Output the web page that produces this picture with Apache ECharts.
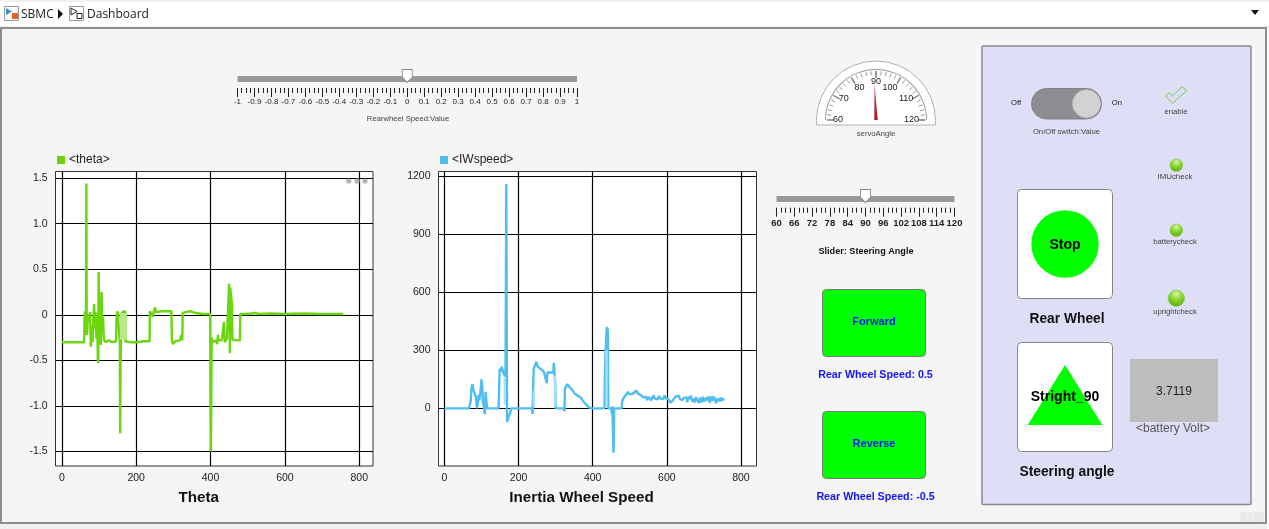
<!DOCTYPE html>
<html>
<head>
<meta charset="utf-8">
<title>Dashboard</title>
<script src="https://cdn.jsdelivr.net/npm/echarts@6/dist/echarts.min.js"></script>
<style>
html, body { margin: 0; padding: 0; background: #f0f0f0; }
#main { width: 1269px; height: 529px; }
</style>
</head>
<body>
<div id="main"></div>
<script>
// theta trace, [sample, value]
var thetaData = [[0,-0.3],[20,-0.3],[40,-0.3],[60,-0.3],[61,-0.08],[62,0.04],[63,-0.22],[65,-0.05],[66,1.44],[67,-0.12],[68,-0.22],[70,-0.03],[73,-0.06],[76,0.03],[78,-0.35],[80,-0.12],[83,-0.3],[85,-0.02],[87,0.12],[89,-0.15],[91,0.03],[93,-0.26],[95,-0.02],[97,-0.5],[98,-0.53],[99,0.47],[101,-0.1],[103,0.12],[105,-0.33],[107,0.25],[109,-0.18],[111,-0.02],[113,-0.27],[118,-0.3],[125,-0.28],[135,-0.3],[146,-0.29],[147,-0.05],[150,0.04],[155,0.05],[156,-0.3],[157,-1.3],[158,-0.55],[160,-0.05],[163,0.03],[170,0.04],[171,-0.29],[185,-0.3],[200,-0.3],[220,-0.29],[236,-0.29],[237,0.04],[240,0.02],[245,-0.02],[248,0.05],[251,0.08],[253,0.03],[270,0.04],[295,0.04],[296,-0.28],[299,-0.32],[305,-0.29],[318,-0.28],[321,-0.22],[324,-0.28],[325,0.02],[330,0.03],[345,0.04],[360,0.02],[380,0.01],[399,0.01],[400,-0.9],[401,-1.5],[402,-0.9],[403,-0.25],[405,-0.3],[415,-0.28],[418,-0.32],[420,-0.22],[422,-0.28],[430,-0.28],[434,-0.15],[436,-0.08],[438,-0.3],[441,-0.32],[444,-0.26],[449,-0.28],[450,0.34],[451,0.2],[452,-0.42],[453,0.3],[456,0.3],[458,0.1],[459,-0.27],[470,-0.28],[479,-0.28],[480,0.01],[500,0.01],[520,0.02],[530,0.01],[560,0.015],[600,0.01],[650,0.015],[700,0.01],[757,0.01]];

// pale stretches of the theta trace
var thetaPale = [[165.5,-0.27],[165.5,0.02]];

// inertia wheel speed trace, [sample, value]
var wheelData = [[0,0],[30,0],[66,0],[68,10],[71,40],[73,105],[76,125],[78,95],[82,75],[85,55],[88,0],[90,30],[92,70],[94,40],[96,65],[98,100],[100,150],[102,110],[104,30],[107,5],[109,-30],[111,85],[114,80],[115,0],[146,0],[147,65],[149,205],[152,190],[154,215],[157,225],[160,180],[163,165],[165,205],[167,1160],[168,400],[169,-70],[173,-45],[178,-20],[180,0],[210,0],[237,0],[238,-30],[239,90],[241,205],[245,195],[248,240],[252,215],[256,225],[262,200],[268,190],[272,180],[276,130],[278,185],[285,185],[294,185],[295,235],[297,190],[299,120],[300,0],[322,0],[324,-15],[325,100],[328,110],[331,125],[338,110],[345,95],[352,75],[360,65],[368,55],[375,35],[382,20],[390,5],[394,15],[398,0],[432,0],[433,180],[435,300],[437,310],[438,420],[441,405],[442,0],[450,0],[452,-30],[453,10],[455,10],[456,-229],[457,-150],[458,0],[478,0],[480,40],[484,55],[490,70],[495,85],[499,72],[503,78],[507,74],[512,80],[518,92],[521,78],[525,80],[530,68],[533,72],[537,55],[540,48],[544,60],[547,42],[551,58],[555,55],[558,42],[560,48],[564,66],[567,52],[571,60],[575,46],[579,64],[583,50],[587,58],[590,48],[594,66],[597,52],[600,60],[603,50],[607,40],[610,30],[613,22],[616,40],[620,48],[624,62],[628,52],[632,65],[635,50],[639,58],[642,42],[646,54],[650,44],[653,58],[655,32],[659,60],[662,48],[665,66],[668,36],[672,50],[675,30],[679,58],[682,44],[686,28],[690,55],[693,30],[697,60],[700,36],[703,30],[707,55],[710,40],[713,62],[716,28],[719,50],[722,62],[725,40],[728,60],[731,40],[733,26],[736,50],[738,38],[741,52],[744,36],[747,55],[750,42],[755,50]];

// pale stretches of the wheel trace
var wheelPale = [[163,20],[163,160],['-','-'],[241,10],[241,90],['-','-'],[298,10],[298,170],['-','-'],[437.5,10],[437.5,300]];

// axis ticks
var plotXTicks = [0, 200, 400, 600, 800];
var thetaYTicks = [-1.5, -1, -0.5, 0, 0.5, 1, 1.5];
var wheelYTicks = [0, 300, 600, 900, 1200];

// current values of the widgets
var rearSliderValue = 0;
var steerSliderValue = 90;
var servoAngle = 89.2;
var batteryVolt = '3.7119';

var GREEN = '#00ff00';
var THETA_COLOR = '#6bd60e';
var WHEEL_COLOR = '#4fbdf0';
var FONT = '"Liberation Sans", Arial, sans-serif';
var UI_FONT = '"Open Sans", "Noto Sans", sans-serif';

var thumbPath = 'path://M0,0 L10,0 L10,8 L5,13 L0,8 Z';

function label(x, y, text, size, color, weight, align, family) {
    return {
        type: 'text', x: x, y: y + 0.8, z: 6, silent: true,
        style: {
            text: text,
            fontSize: size,
            fontFamily: family || FONT,
            fontWeight: weight || 'normal',
            fill: color || '#000',
            align: align || 'center',
            verticalAlign: 'middle'
        }
    };
}

function box(x, y, w, h, fill, stroke, r, sw, z) {
    return {
        type: 'rect', z: z === undefined ? 1 : z, silent: true,
        shape: { x: x, y: y, width: w, height: h, r: r || 0 },
        style: { fill: fill, stroke: stroke || null, lineWidth: sw === undefined ? 1 : sw }
    };
}

function led(x, y, r) {
    return {
        type: 'circle', z: 3, silent: true,
        shape: { cx: x, cy: y, r: r },
        style: {
            fill: new echarts.graphic.RadialGradient(0.5, 0.25, 0.75, [
                { offset: 0, color: '#d6f5a8' },
                { offset: 0.5, color: '#86d42a' },
                { offset: 1, color: '#58a808' }
            ]),
            stroke: '#8ad060', lineWidth: 0.8
        }
    };
}

function plotAxes(gridIndex, xMin, xMax, yMin, yMax, yTicks) {
    var x = {
        type: 'value', gridIndex: gridIndex, min: xMin, max: xMax,
        axisLine: { show: false },
        axisTick: { show: false, customValues: plotXTicks },
        axisLabel: {
            customValues: plotXTicks, color: '#222', fontSize: 10.5, fontFamily: FONT,
            margin: 7, showMinLabel: true, showMaxLabel: true, hideOverlap: false
        },
        splitLine: { show: true, lineStyle: { color: '#000', width: 1.2 } }
    };
    var y = {
        type: 'value', gridIndex: gridIndex, min: yMin, max: yMax,
        axisLine: { show: false },
        axisTick: { show: false, customValues: yTicks },
        axisLabel: {
            customValues: yTicks, color: '#222', fontSize: 10.5, fontFamily: FONT,
            margin: 8, showMinLabel: true, showMaxLabel: true, hideOverlap: false,
            formatter: function (v) {
                return Math.abs(v) < 10 && v !== 0 ? v.toFixed(1) : String(v);
            }
        },
        splitLine: { show: true, lineStyle: { color: '#000', width: 1.2 } }
    };
    return { x: x, y: y };
}

function sliderAxes(gridIndex, min, max, interval, font, bold, margin) {
    var x = {
        type: 'value', gridIndex: gridIndex, min: min, max: max, interval: interval,
        position: 'bottom',
        axisLine: { show: false, onZero: false },
        axisTick: { show: true, length: 9, lineStyle: { color: '#222', width: 1 } },
        minorTick: { show: true, splitNumber: 4, length: 5, lineStyle: { color: '#222', width: 1 } },
        splitLine: { show: false },
        axisLabel: {
            color: '#222', fontSize: font, fontFamily: FONT, fontWeight: bold ? 'bold' : 'normal',
            margin: margin, showMinLabel: true, showMaxLabel: true, hideOverlap: false,
            formatter: function (v) { return String(+v.toFixed(1)); }
        }
    };
    var y = { type: 'value', gridIndex: gridIndex, min: 0, max: 1, show: false };
    return { x: x, y: y };
}

function sliderSeries(axisIndex, min, max, value) {
    return [{
        type: 'line', xAxisIndex: axisIndex, yAxisIndex: axisIndex,
        data: [[min, 0.5], [max, 0.5]],
        showSymbol: false, silent: true, z: 2,
        lineStyle: { color: '#999', width: 6, cap: 'butt' }
    }, {
        type: 'scatter', xAxisIndex: axisIndex, yAxisIndex: axisIndex,
        data: [[value, 0.5]],
        symbol: thumbPath, symbolSize: [10, 13], symbolOffset: [0, -3],
        clip: false, silent: true, z: 3,
        itemStyle: { color: '#fff', borderColor: '#888', borderWidth: 1, opacity: 1 }
    }];
}

var thetaAxes = plotAxes(0, -17, 837, -1.658, 1.5725, thetaYTicks);
var wheelAxes = plotAxes(1, -16, 842, -298, 1224, wheelYTicks);
var rearAxes = sliderAxes(2, -1, 1, 0.1, 8, false, 10);
var steerAxes = sliderAxes(3, 60, 120, 6, 9.5, true, 10.5);

var graphics = [
    // window chrome
    box(0, 0, 1269, 2, '#f0f0f0', null, 0, 0, 0),
    box(0, 2, 1269, 24, '#ffffff', null, 0, 0, 0),
    box(0, 26, 1269, 2, '#f0f0f0', null, 0, 0, 0),
    box(1, 28, 1265, 495, null, '#8a8f96', 0, 2, 0),
    box(0, 524, 1269, 5, '#f0f0f0', null, 0, 0, 0),
    box(1267, 28, 2, 501, '#ffffff', null, 0, 0, 0),
    box(1240, 512, 6, 10, '#e8e8e8', null, 0, 0, 0),
    box(1247, 512, 5, 10, '#e8e8e8', null, 0, 0, 0),
    box(1253, 512, 11, 10, '#e8e8e8', null, 0, 0, 0),

    // breadcrumb
    box(4.5, 6.5, 14, 14, '#fff', '#999', 0, 1, 1),
    { type: 'polygon', z: 2, silent: true, shape: { points: [[6, 8], [12, 11.5], [6, 15]] }, style: { fill: '#3a8fd0' } },
    box(12, 13, 6, 6, '#e0641c', null, 0, 0, 2),
    label(21, 13.5, 'SBMC', 12, '#222', 'normal', 'left', UI_FONT),
    { type: 'polygon', z: 2, silent: true, shape: { points: [[58, 9], [63, 14], [58, 19]] }, style: { fill: '#111' } },
    box(69.5, 6.5, 14, 14, '#fff', '#999', 0, 1, 1),
    { type: 'polygon', z: 2, silent: true, shape: { points: [[71, 8], [77, 11.5], [71, 15]] }, style: { fill: '#fff', stroke: '#222', lineWidth: 1 } },
    box(77, 13.5, 5, 5, '#fff', '#222', 0, 1, 2),
    label(87, 13.5, 'Dashboard', 12, '#222', 'normal', 'left', UI_FONT),
    { type: 'polygon', z: 2, silent: true, shape: { points: [[1251, 10], [1259, 10], [1255, 15]] }, style: { fill: '#111' } },

    // slider captions
    label(408, 118, 'Rearwheel Speed:Value', 7.7, '#444'),
    label(866, 250.5, 'Slider: Steering Angle', 9.1, '#111', 'bold'),

    // gauge housing
    box(816.5, 120.5, 119, 4.5, '#fff', null, 0, 0, 1),
    { type: 'sector', z: 1, silent: true, shape: { cx: 876, cy: 120.5, r: 59.5, r0: 0, startAngle: Math.PI, endAngle: Math.PI * 2, clockwise: true }, style: { fill: '#fff' } },
    { type: 'arc', z: 1, silent: true, shape: { cx: 876, cy: 120.5, r: 59.5, startAngle: Math.PI, endAngle: Math.PI * 2, clockwise: true }, style: { fill: null, stroke: '#b0b0b0', lineWidth: 1 } },
    { type: 'polyline', z: 1, silent: true, shape: { points: [[816.5, 120.5], [816.5, 125], [935.5, 125], [935.5, 120.5]] }, style: { fill: null, stroke: '#b0b0b0', lineWidth: 1 } },
    label(876, 133.5, 'servoAngle', 7.7, '#444'),

    // three dots of the scope menu
    { type: 'circle', z: 5, silent: true, shape: { cx: 348.7, cy: 181, r: 2.6 }, style: { fill: '#b5b5b5' } },
    { type: 'circle', z: 5, silent: true, shape: { cx: 357, cy: 181, r: 2.6 }, style: { fill: '#b5b5b5' } },
    { type: 'circle', z: 5, silent: true, shape: { cx: 365, cy: 181, r: 2.6 }, style: { fill: '#b5b5b5' } },

    // forward and reverse buttons
    box(822.5, 289.5, 103, 67, GREEN, '#777', 4, 1, 1),
    label(874, 321.5, 'Forward', 11, '#1414ff', 'bold'),
    label(875.5, 374, 'Rear Wheel Speed: 0.5', 10.7, '#1414ff', 'bold'),
    box(822.5, 411.5, 103, 67, GREEN, '#777', 4, 1, 1),
    label(874, 443.5, 'Reverse', 11, '#1414ff', 'bold'),
    label(875.5, 496.5, 'Rear Wheel Speed: -0.5', 10.7, '#1414ff', 'bold'),

    // right panel
    box(982, 46, 269, 458.5, '#dedef6', '#8a8a94', 1, 1.5, 1),
    box(1031.5, 88.5, 70, 30.5, '#8e8e92', '#828286', 15, 1, 2),
    { type: 'circle', z: 3, silent: true, shape: { cx: 1086.5, cy: 103.7, r: 14 }, style: { fill: '#d2d2d2', stroke: '#bbb', lineWidth: 1 } },
    label(1016, 102.5, 'Off', 7.7, '#222'),
    label(1117, 102.5, 'On', 7.7, '#222'),
    label(1066.5, 131.5, 'On/Off switch:Value', 7.7, '#444'),
    {
        type: 'polygon', z: 3, silent: true,
        shape: { points: [[1165.5, 96], [1172.5, 103.3], [1186.7, 90.7], [1182, 86.7], [1172.5, 96], [1169, 92.7]] },
        style: { fill: 'none', stroke: '#6cd43c', lineWidth: 1 }
    },
    label(1176, 111.5, 'enable', 7.7, '#444'),
    led(1176.3, 165.3, 6.3),
    label(1175, 176.5, 'IMUcheck', 7.9, '#444'),
    led(1176.3, 230.3, 6.3),
    label(1175, 241.5, 'batterycheck', 7.7, '#444'),
    led(1176.3, 298.3, 8.2),
    label(1175, 311.5, 'uprightcheck', 7.7, '#444'),

    box(1017.5, 189.5, 95, 109, '#fff', '#858585', 4, 1, 2),
    { type: 'circle', z: 3, silent: true, shape: { cx: 1065, cy: 244, r: 33.7 }, style: { fill: GREEN } },
    label(1065, 244, 'Stop', 14, '#000', 'bold'),
    label(1067, 318.5, 'Rear Wheel', 13.8, '#111', 'bold'),

    box(1017.5, 342.5, 95, 109, '#fff', '#858585', 4, 1, 2),
    { type: 'polygon', z: 3, silent: true, shape: { points: [[1065, 365], [1102.3, 425], [1027.7, 425]] }, style: { fill: GREEN } },
    label(1065, 396.5, 'Stright_90', 14, '#000', 'bold'),
    label(1067, 471.5, 'Steering angle', 13.8, '#111', 'bold'),

    box(1130, 359, 88, 63, '#bdbdbd', null, 0, 0, 2),
    label(1174, 390.5, batteryVolt, 12, '#222'),
    label(1173, 428, '<battery Volt>', 12, '#555')
];

var chart = echarts.init(document.getElementById('main'), null, { renderer: 'canvas' });

var option = {
    animation: false,
    backgroundColor: '#f5f5f5',
    title: [
        { text: 'Theta', left: 198.7, top: 490.5, padding: 0, textAlign: 'center', textStyle: { fontFamily: FONT, fontSize: 15.2, fontWeight: 'bold', color: '#111' } },
        { text: 'Inertia Wheel Speed', left: 581.5, top: 490.5, padding: 0, textAlign: 'center', textStyle: { fontFamily: FONT, fontSize: 15.2, fontWeight: 'bold', color: '#111' } }
    ],
    legend: [
        { data: ['<theta>'], left: 57, top: 154, padding: 0, itemWidth: 8, itemHeight: 8, itemGap: 4, icon: 'rect', selectedMode: false, textStyle: { fontFamily: FONT, fontSize: 12, color: '#222', padding: [0, 0, 0, -1] } },
        { data: ['<IWspeed>'], left: 440, top: 154, padding: 0, itemWidth: 8, itemHeight: 8, itemGap: 4, icon: 'rect', selectedMode: false, textStyle: { fontFamily: FONT, fontSize: 12, color: '#222', padding: [0, 0, 0, -1] } }
    ],
    grid: [
        { left: 55.5, top: 171.5, width: 317.5, height: 294.5, show: true, backgroundColor: '#fff', borderColor: '#333', borderWidth: 1, containLabel: false },
        { left: 438.5, top: 171.5, width: 318, height: 294.5, show: true, backgroundColor: '#fff', borderColor: '#333', borderWidth: 1, containLabel: false },
        { left: 237.5, top: 70, width: 339.5, height: 18, containLabel: false },
        { left: 776.5, top: 190.3, width: 178, height: 17.4, containLabel: false }
    ],
    xAxis: [thetaAxes.x, wheelAxes.x, rearAxes.x, steerAxes.x],
    yAxis: [thetaAxes.y, wheelAxes.y, rearAxes.y, steerAxes.y],
    graphic: { elements: graphics },
    series: [
        {
            name: '<theta>', type: 'line', xAxisIndex: 0, yAxisIndex: 0, data: thetaData,
            showSymbol: false, color: THETA_COLOR, z: 4,
            lineStyle: { width: 2.4 }
        },
        {
            type: 'line', xAxisIndex: 0, yAxisIndex: 0, data: thetaPale,
            showSymbol: false, color: '#b4ea8a', z: 5, silent: true,
            lineStyle: { width: 7, cap: 'butt' }
        },
        {
            name: '<IWspeed>', type: 'line', xAxisIndex: 1, yAxisIndex: 1, data: wheelData,
            showSymbol: false, color: WHEEL_COLOR, z: 4,
            lineStyle: { width: 2.4 }
        },
        {
            type: 'line', xAxisIndex: 1, yAxisIndex: 1, data: wheelPale, connectNulls: false,
            showSymbol: false, color: '#a8e0f8', z: 5, silent: true,
            lineStyle: { width: 2.4, cap: 'butt' }
        }
    ].concat(sliderSeries(2, -1, 1, rearSliderValue)).concat(sliderSeries(3, 60, 120, steerSliderValue)).concat([
        {
            type: 'gauge', center: [876, 120], radius: 51, z: 4,
            startAngle: 180, endAngle: 0, min: 60, max: 120, splitNumber: 6,
            data: [{ value: servoAngle }],
            detail: { show: false }, title: { show: false }, silent: true,
            axisLine: { lineStyle: { width: 1, color: [[1, '#999']] } },
            axisTick: { show: true, splitNumber: 5, distance: 1, length: 4, lineStyle: { color: '#9a9a9a', width: 1 } },
            splitLine: { show: true, distance: 1, length: 7, lineStyle: { color: '#777', width: 1.4 } },
            axisLabel: { color: '#222', fontFamily: FONT, fontSize: 9, distance: 0 },
            pointer: {
                icon: 'triangle', length: 39.5, width: 3.4, offsetCenter: [0, 0],
                itemStyle: {
                    color: new echarts.graphic.LinearGradient(0, 0, 0, 1, [
                        { offset: 0, color: '#e8b4b4' },
                        { offset: 0.45, color: '#c6404a' },
                        { offset: 1, color: '#a81420' }
                    ])
                }
            },
            anchor: { show: false }
        }
    ])
};

chart.setOption(option);
</script>
</body>
</html>
